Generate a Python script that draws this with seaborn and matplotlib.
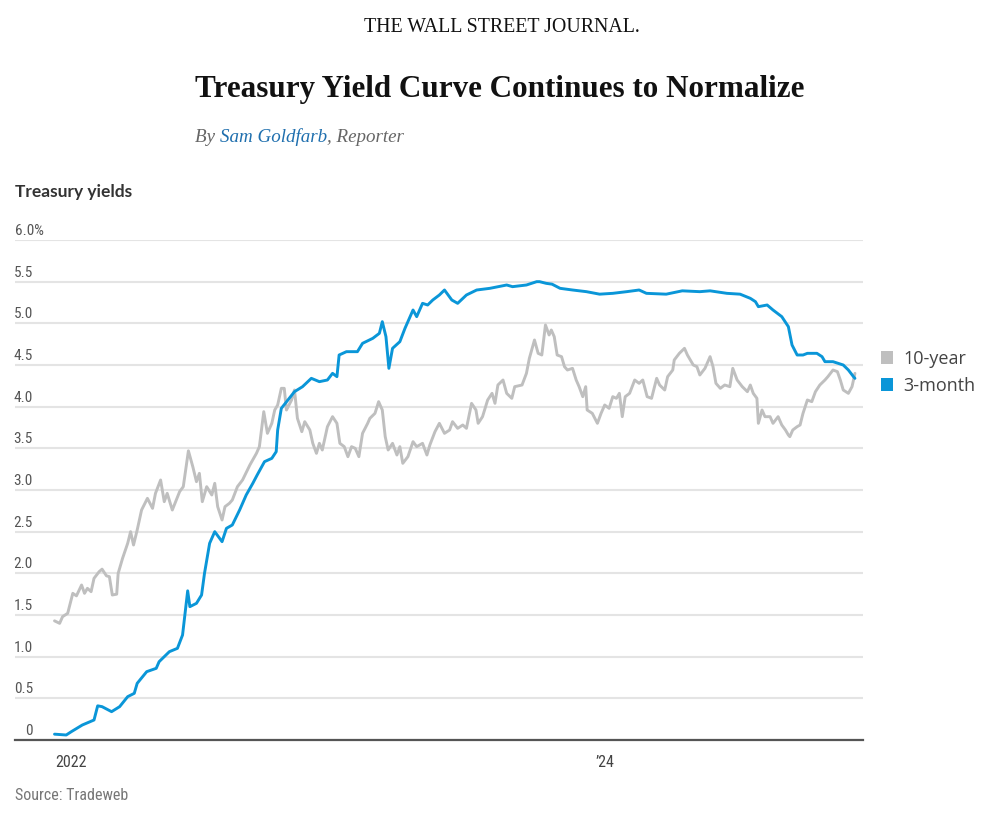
import matplotlib
matplotlib.use("Agg")
import matplotlib.pyplot as plt
import matplotlib.transforms as mtransforms
from matplotlib.patches import Patch
from matplotlib import font_manager
import seaborn as sns
import pandas as pd

# ---------------- data ----------------
series_names = ["10-year", "3-month"]

three_month_dates = [
    "2021-12-10", "2021-12-26",
    "2022-01-02", "2022-01-17", "2022-02-02", "2022-02-07", "2022-02-13", "2022-02-26", "2022-03-09", "2022-03-20",
    "2022-03-29", "2022-04-02", "2022-04-15", "2022-04-28", "2022-05-02", "2022-05-09", "2022-05-16", "2022-05-27",
    "2022-06-03", "2022-06-10", "2022-06-13", "2022-06-22", "2022-06-29", "2022-07-03", "2022-07-10", "2022-07-17",
    "2022-07-27", "2022-08-02", "2022-08-10", "2022-08-20", "2022-08-29", "2022-09-07", "2022-09-13", "2022-09-23",
    "2022-10-03", "2022-10-09", "2022-10-11", "2022-10-16", "2022-10-25", "2022-11-03", "2022-11-14", "2022-11-26",
    "2022-12-07", "2022-12-18", "2022-12-25", "2022-12-31",
    "2023-01-03", "2023-01-13", "2023-01-28", "2023-02-04", "2023-02-18", "2023-02-27", "2023-03-03", "2023-03-08",
    "2023-03-12", "2023-03-17", "2023-03-27", "2023-04-03", "2023-04-14", "2023-04-19", "2023-04-27", "2023-05-04",
    "2023-05-11", "2023-05-20", "2023-05-27", "2023-06-06", "2023-06-14", "2023-06-26", "2023-07-10", "2023-07-28",
    "2023-08-20", "2023-08-28", "2023-09-16", "2023-09-30", "2023-10-04", "2023-10-13", "2023-10-21", "2023-11-01",
    "2023-11-18", "2023-12-07", "2023-12-25",
    "2024-01-12", "2024-01-31", "2024-02-17", "2024-02-27", "2024-03-25", "2024-04-16", "2024-05-10", "2024-05-24",
    "2024-06-16", "2024-07-04", "2024-07-18", "2024-07-25", "2024-07-29", "2024-08-10", "2024-08-18", "2024-08-30",
    "2024-09-08", "2024-09-13", "2024-09-20", "2024-09-28", "2024-10-04", "2024-10-17", "2024-10-24", "2024-10-28",
    "2024-11-08", "2024-11-22", "2024-11-29", "2024-12-06", "2024-12-08",
]
three_month_values = [
    0.07, 0.06,
    0.10, 0.18, 0.24, 0.41, 0.40, 0.34, 0.40, 0.52,
    0.56, 0.68, 0.82, 0.86, 0.94, 1.00, 1.06, 1.10,
    1.26, 1.79, 1.60, 1.64, 1.74, 2.00, 2.36, 2.50,
    2.38, 2.54, 2.58, 2.76, 2.94, 3.08, 3.18, 3.34,
    3.38, 3.46, 3.72, 3.98, 4.08, 4.18, 4.24, 4.34,
    4.30, 4.32, 4.40, 4.36,
    4.62, 4.66, 4.66, 4.76, 4.82, 4.88, 5.02, 4.84,
    4.46, 4.70, 4.78, 4.94, 5.16, 5.08, 5.24, 5.22,
    5.28, 5.34, 5.40, 5.28, 5.24, 5.34, 5.40, 5.42,
    5.46, 5.44, 5.46, 5.50, 5.50, 5.48, 5.47, 5.42,
    5.40, 5.38, 5.35,
    5.36, 5.38, 5.40, 5.36, 5.35, 5.39, 5.38, 5.39,
    5.36, 5.35, 5.30, 5.26, 5.20, 5.22, 5.16, 5.08,
    4.96, 4.74, 4.62, 4.62, 4.64, 4.64, 4.60, 4.54,
    4.54, 4.50, 4.44, 4.36, 4.34,
]

ten_year_dates = [
    "2021-12-10", "2021-12-17", "2021-12-21", "2021-12-28",
    "2022-01-04", "2022-01-09", "2022-01-16", "2022-01-20", "2022-01-24", "2022-01-29", "2022-02-02", "2022-02-09",
    "2022-02-13", "2022-02-19", "2022-02-23", "2022-02-27", "2022-03-05", "2022-03-07", "2022-03-13", "2022-03-20",
    "2022-03-24", "2022-03-28", "2022-04-02", "2022-04-08", "2022-04-16", "2022-04-23", "2022-04-27", "2022-05-04",
    "2022-05-09", "2022-05-13", "2022-05-20", "2022-05-30", "2022-06-04", "2022-06-11", "2022-06-17", "2022-06-22",
    "2022-06-26", "2022-06-30", "2022-07-06", "2022-07-13", "2022-07-17", "2022-07-21", "2022-07-27", "2022-07-31",
    "2022-08-06", "2022-08-10", "2022-08-17", "2022-08-24", "2022-09-03", "2022-09-12", "2022-09-16", "2022-09-22",
    "2022-09-27", "2022-10-03", "2022-10-07", "2022-10-11", "2022-10-16", "2022-10-20", "2022-10-23", "2022-10-30",
    "2022-11-03", "2022-11-07", "2022-11-13", "2022-11-17", "2022-11-24", "2022-11-28", "2022-12-03", "2022-12-07",
    "2022-12-11", "2022-12-18", "2022-12-25", "2022-12-31",
    "2023-01-04", "2023-01-10", "2023-01-15", "2023-01-20", "2023-01-25", "2023-01-30", "2023-02-04", "2023-02-11",
    "2023-02-14", "2023-02-21", "2023-02-26", "2023-03-03", "2023-03-07", "2023-03-11", "2023-03-17", "2023-03-23",
    "2023-03-27", "2023-03-31", "2023-04-07", "2023-04-14", "2023-04-19", "2023-04-27", "2023-05-03", "2023-05-07",
    "2023-05-14", "2023-05-20", "2023-05-27", "2023-06-03", "2023-06-07", "2023-06-14", "2023-06-21", "2023-06-26",
    "2023-07-03", "2023-07-09", "2023-07-12", "2023-07-18", "2023-07-25", "2023-07-31", "2023-08-04", "2023-08-08",
    "2023-08-15", "2023-08-20", "2023-08-27", "2023-08-31", "2023-09-10", "2023-09-16", "2023-09-20", "2023-09-27",
    "2023-10-02", "2023-10-07", "2023-10-12", "2023-10-17", "2023-10-20", "2023-10-24", "2023-10-28", "2023-11-03",
    "2023-11-07", "2023-11-11", "2023-11-18", "2023-11-23", "2023-11-27", "2023-12-02", "2023-12-06", "2023-12-08",
    "2023-12-15", "2023-12-22", "2023-12-27",
    "2024-01-01", "2024-01-07", "2024-01-12", "2024-01-17", "2024-01-21", "2024-01-25", "2024-01-29", "2024-02-04",
    "2024-02-11", "2024-02-17", "2024-02-22", "2024-02-28", "2024-03-05", "2024-03-12", "2024-03-16", "2024-03-23",
    "2024-03-27", "2024-04-03", "2024-04-05", "2024-04-12", "2024-04-19", "2024-04-23", "2024-05-01", "2024-05-06",
    "2024-05-10", "2024-05-17", "2024-05-24", "2024-05-28", "2024-06-01", "2024-06-07", "2024-06-13", "2024-06-20",
    "2024-06-24", "2024-06-30", "2024-07-07", "2024-07-14", "2024-07-18", "2024-07-22", "2024-07-27", "2024-07-29",
    "2024-08-03", "2024-08-07", "2024-08-14", "2024-08-18", "2024-08-25", "2024-08-30", "2024-09-04", "2024-09-08",
    "2024-09-10", "2024-09-14", "2024-09-20", "2024-09-24", "2024-09-28", "2024-10-04", "2024-10-10", "2024-10-15",
    "2024-10-21", "2024-10-28", "2024-11-01", "2024-11-08", "2024-11-14", "2024-11-18", "2024-11-22", "2024-11-29",
    "2024-12-04", "2024-12-08",
]
ten_year_values = [
    1.43, 1.40, 1.48, 1.52,
    1.76, 1.73, 1.86, 1.76, 1.82, 1.78, 1.94, 2.02,
    2.05, 1.97, 1.96, 1.74, 1.75, 2.00, 2.18, 2.36,
    2.50, 2.34, 2.52, 2.76, 2.90, 2.78, 2.96, 3.12,
    2.86, 2.96, 2.76, 2.98, 3.04, 3.47, 3.28, 3.10,
    3.20, 2.86, 3.04, 2.94, 3.08, 2.80, 2.64, 2.80,
    2.84, 2.88, 3.04, 3.12, 3.30, 3.44, 3.52, 3.94,
    3.68, 3.80, 3.96, 4.02, 4.22, 4.22, 3.96, 4.08,
    4.20, 3.86, 3.70, 3.82, 3.72, 3.56, 3.44, 3.56,
    3.48, 3.76, 3.88, 3.80,
    3.56, 3.52, 3.40, 3.52, 3.50, 3.40, 3.68, 3.80,
    3.86, 3.92, 4.06, 3.96, 3.64, 3.48, 3.56, 3.42,
    3.52, 3.32, 3.40, 3.58, 3.52, 3.56, 3.42, 3.54,
    3.70, 3.80, 3.68, 3.72, 3.82, 3.74, 3.78, 3.74,
    4.04, 3.96, 3.80, 3.88, 4.08, 4.16, 4.04, 4.26,
    4.32, 4.16, 4.10, 4.24, 4.26, 4.40, 4.58, 4.80,
    4.64, 4.62, 4.98, 4.86, 4.92, 4.84, 4.62, 4.60,
    4.48, 4.44, 4.46, 4.32, 4.24, 4.12, 4.24, 3.96,
    3.92, 3.80, 3.92,
    4.02, 3.98, 4.12, 4.10, 4.16, 3.88, 4.12, 4.16,
    4.32, 4.28, 4.32, 4.12, 4.10, 4.34, 4.26, 4.20,
    4.36, 4.44, 4.56, 4.64, 4.70, 4.62, 4.50, 4.48,
    4.38, 4.46, 4.60, 4.48, 4.28, 4.22, 4.26, 4.24,
    4.46, 4.32, 4.24, 4.18, 4.26, 4.16, 4.10, 3.80,
    3.96, 3.88, 3.88, 3.80, 3.88, 3.78, 3.72, 3.66,
    3.64, 3.72, 3.76, 3.78, 3.92, 4.08, 4.06, 4.18,
    4.26, 4.32, 4.36, 4.44, 4.42, 4.32, 4.20, 4.16,
    4.24, 4.40,
]

y_ticks = [0, 0.5, 1.0, 1.5, 2.0, 2.5, 3.0, 3.5, 4.0, 4.5, 5.0, 5.5, 6.0]
y_tick_labels = ["0", "0.5", "1.0", "1.5", "2.0", "2.5", "3.0", "3.5", "4.0", "4.5", "5.0", "5.5", "6.0%"]
x_tick_dates = ["2022-01-01", "2023-01-01", "2024-01-01"]
x_tick_labels = ["2022", "", "\u201924"]

# ---------------- style ----------------
GRAY = "#bfbfbf"
BLUE = "#0a96d8"

sns.set_theme(style="white")
avail = {f.name for f in font_manager.fontManager.ttflist}


def pick(*names):
    for n in names:
        if n in avail:
            return n
    return "DejaVu Sans"


SANS = pick("Lato", "Roboto", "Open Sans", "DejaVu Sans")
NARROW = pick("Liberation Sans Narrow", "Roboto Condensed", "DejaVu Sans Condensed", "Lato")
LEG = pick("Open Sans", "Noto Sans", "Lato")
SERIF = pick("Liberation Serif", "DejaVu Serif")
plt.rcParams["font.family"] = [SANS, "DejaVu Sans"]

W, H = 990, 813
fig = plt.figure(figsize=(W / 100, H / 100), dpi=100)
fig.patch.set_facecolor("white")


def fx(px):
    return px / W


def fy(py):
    return 1 - py / H


ax = fig.add_axes([fx(15), fy(740), fx(863) - fx(15), fy(240) - fy(740)])

df = pd.concat([
    pd.DataFrame({"date": pd.to_datetime(ten_year_dates), "value": ten_year_values, "series": series_names[0]}),
    pd.DataFrame({"date": pd.to_datetime(three_month_dates), "value": three_month_values, "series": series_names[1]}),
], ignore_index=True)

sns.lineplot(data=df, x="date", y="value", hue="series", hue_order=series_names,
             palette={series_names[0]: GRAY, series_names[1]: BLUE},
             estimator=None, sort=False, linewidth=2.1, legend=False, ax=ax)

ax.set_xlim(pd.Timestamp("2021-10-17"), pd.Timestamp("2024-12-19"))
ax.set_ylim(0, 6.0)
ax.set_xlabel("")
ax.set_ylabel("")

for s in ["top", "right", "left"]:
    ax.spines[s].set_visible(False)
ax.spines["bottom"].set_color("#555555")
ax.spines["bottom"].set_linewidth(1.6)

ax.set_yticks(y_ticks)
ax.set_yticklabels([])
ax.tick_params(axis="y", length=0)
ax.yaxis.grid(True, color="#e4e4e4", linewidth=1.5)
ax.xaxis.grid(False)
ax.set_axisbelow(True)

ax.set_xticks(pd.to_datetime(x_tick_dates))
ax.set_xticklabels(x_tick_labels, fontfamily=NARROW, fontsize=11.5, color="#444444")
ax.tick_params(axis="x", direction="out", length=5, width=1.2, color="#555555", pad=6)

# y tick labels sitting above grid lines
ytrans = mtransforms.offset_copy(ax.get_yaxis_transform(), fig=fig, x=0, y=2, units="dots")
x_right = (33 - 15) / (863 - 15)
for v, lab in zip(y_ticks, y_tick_labels):
    if lab.endswith("%"):
        ax.text(0, v, lab, transform=ytrans, ha="left", va="bottom",
                fontfamily=NARROW, fontsize=11, color="#555555")
    else:
        ax.text(x_right, v, lab, transform=ytrans, ha="right", va="bottom",
                fontfamily=NARROW, fontsize=11, color="#555555")

# legend
handles = [Patch(facecolor=GRAY, edgecolor="none"), Patch(facecolor=BLUE, edgecolor="none")]
fig.legend(handles, series_names, loc="upper left", bbox_to_anchor=(fx(881), fy(350)),
           frameon=False, handlelength=0.68, handleheight=0.68, handletextpad=0.55,
           labelspacing=0.48, borderaxespad=0, borderpad=0,
           prop={"family": LEG, "size": 13}, labelcolor="#444444")

# ---------------- header texts ----------------
renderer = fig.canvas.get_renderer()


def fit(t, target_w):
    w = t.get_window_extent(renderer).width
    t.set_fontsize(t.get_fontsize() * target_w / w)
    return t


mast = fig.text(fx(502), fy(28), "THE WALL STREET JOURNAL.", ha="center", va="center",
                fontfamily=SERIF, fontsize=20, color="#111111")
fit(mast, 275)

title = fig.text(fx(500), fy(89), "Treasury Yield Curve Continues to Normalize", ha="center", va="center",
                 fontfamily=SERIF, fontweight="bold", fontsize=24, color="#111111")
fit(title, 610)

# byline in three pieces
parts = [("By ", "#666666"), ("Sam Goldfarb", "#1f6fae"), (", Reporter", "#666666")]
xcur = 195
for txt, col in parts:
    t = fig.text(fx(xcur), fy(137), txt, ha="left", va="center", fontfamily=SERIF,
                 fontstyle="italic", fontsize=13.7, color=col)
    xcur += t.get_window_extent(renderer).width

fig.text(fx(15), fy(192), "Treasury yields", ha="left", va="center",
         fontfamily=SANS, fontweight="bold", fontsize=12.5, color="#333333")

fig.text(fx(15), fy(795), "Source: Tradeweb", ha="left", va="center",
         fontfamily=NARROW, fontsize=11.5, color="#777777")

fig.savefig("out.png", dpi=100, facecolor="white")
